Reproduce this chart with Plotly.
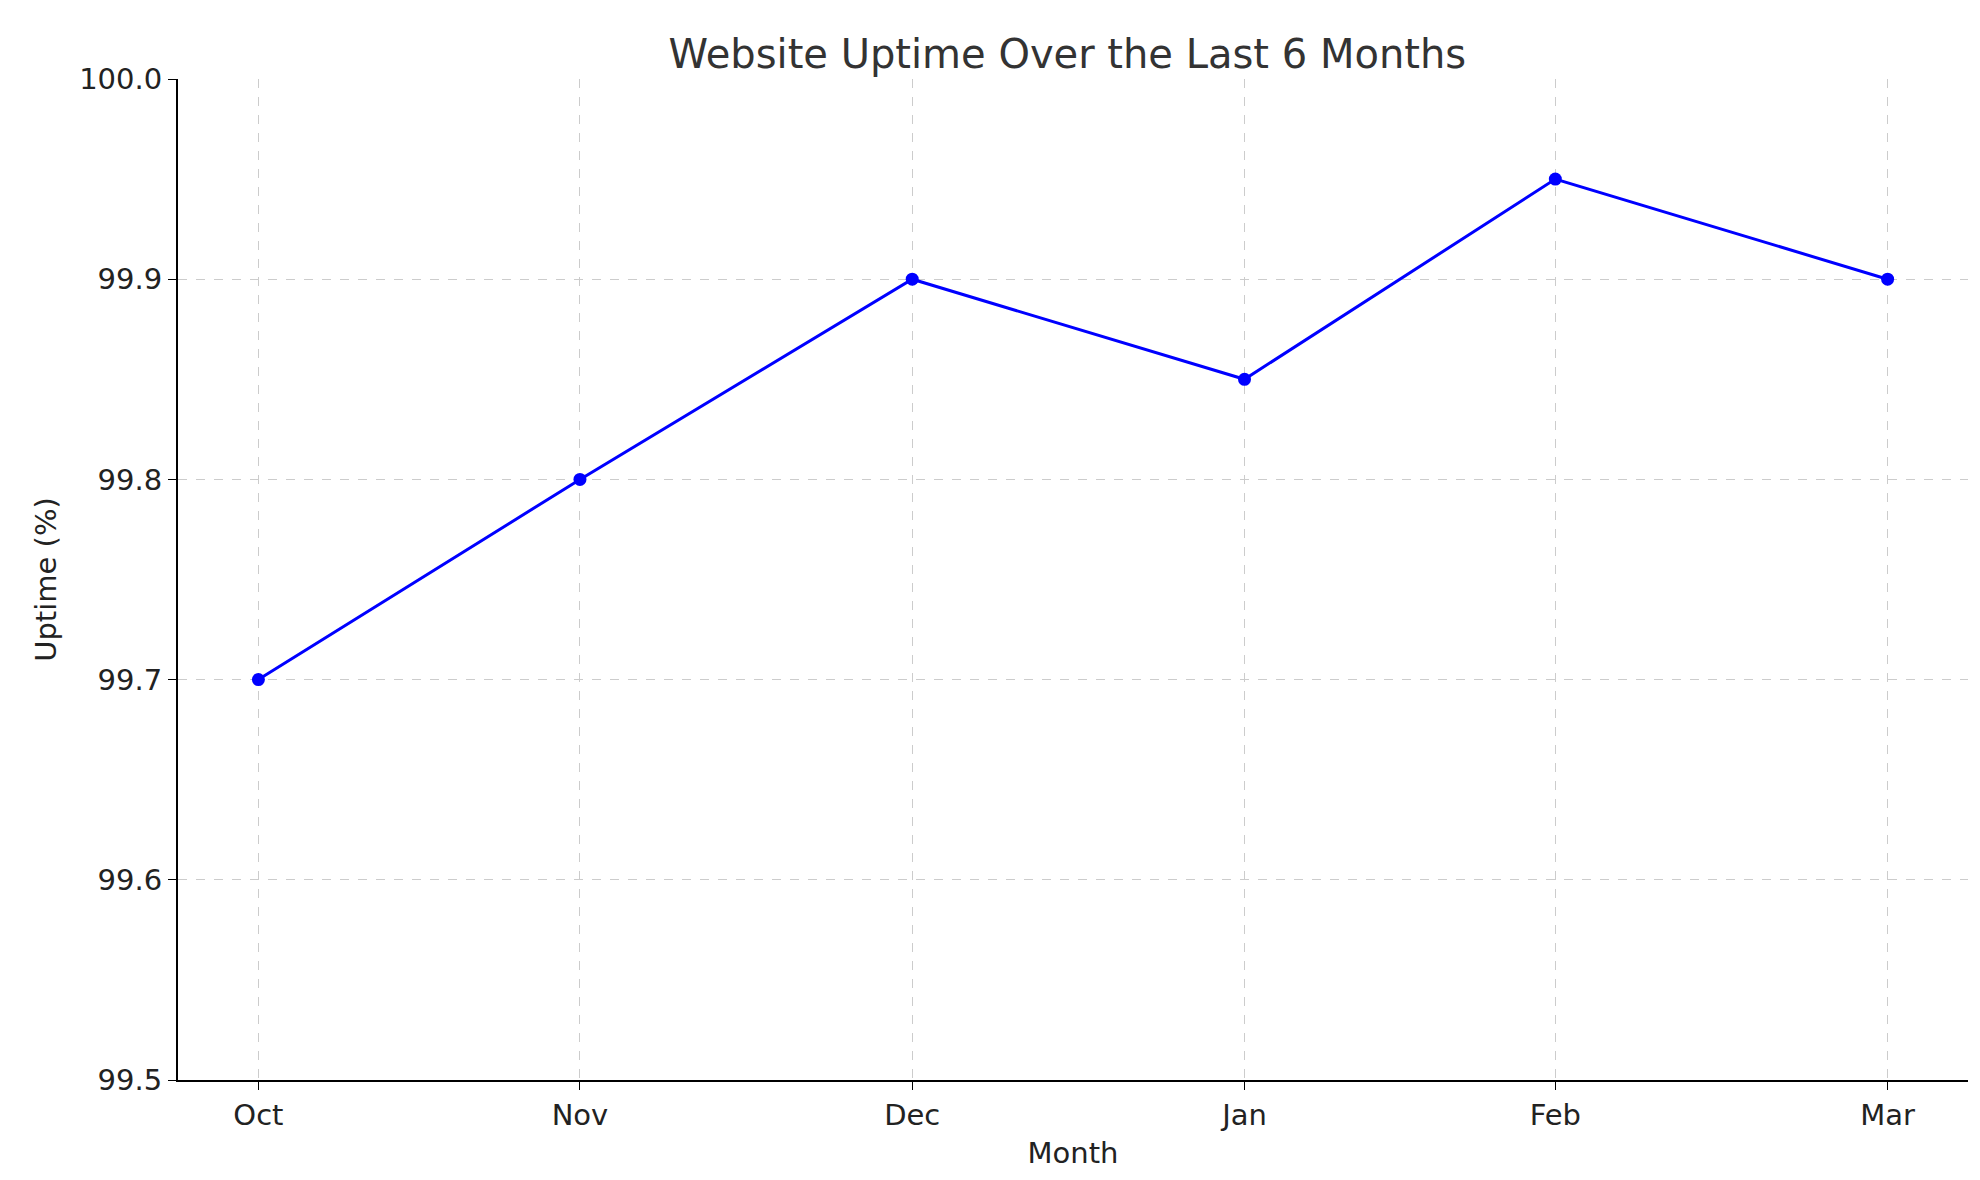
import plotly.graph_objects as go

dates = ["2023-10-31", "2023-11-30", "2023-12-31", "2024-01-31", "2024-02-29", "2024-03-31"]
months = ["Oct", "Nov", "Dec", "Jan", "Feb", "Mar"]
uptime = [99.7, 99.8, 99.9, 99.85, 99.95, 99.9]
yticks = [99.5, 99.6, 99.7, 99.8, 99.9, 100.0]

fig = go.Figure(go.Scatter(x=dates, y=uptime, mode="lines+markers",
                           line=dict(color="#0000ff", width=3),
                           marker=dict(color="#0000ff", size=13)))
font = dict(family="DejaVu Sans", color="#222")
fig.update_layout(
    width=1980, height=1180, plot_bgcolor="white", paper_bgcolor="white",
    margin=dict(l=170, r=20, t=71, b=108),
    title=dict(text="Website Uptime Over the Last 6 Months", x=0.535, xanchor="center",
               y=0.973, yanchor="top", font=dict(family="DejaVu Sans", size=40, color="#333")),
    font=font, showlegend=False,
)
fig.update_xaxes(type="date", range=["2023-10-23 12:00", "2024-04-07 12:00"],
                 tickvals=dates, ticktext=months, tickfont=dict(size=29),
                 title=dict(text="Month", font=dict(size=29), standoff=12),
                 showgrid=True, gridcolor="#cccccc", griddash="dash", gridwidth=1,
                 showline=True, linecolor="black", linewidth=2, ticks="outside", ticklen=8,
                 tickcolor="black", zeroline=False)
fig.update_yaxes(range=[99.5, 100.0], tickvals=yticks, ticktext=[f"{v:.1f}" for v in yticks],
                 tickfont=dict(size=29), title=dict(text="Uptime (%)", font=dict(size=29), standoff=14),
                 showgrid=True, gridcolor="#cccccc", griddash="dash", gridwidth=1,
                 showline=True, linecolor="black", linewidth=2, ticks="outside", ticklen=8,
                 tickcolor="black", zeroline=False)
fig.write_html("out.html")
